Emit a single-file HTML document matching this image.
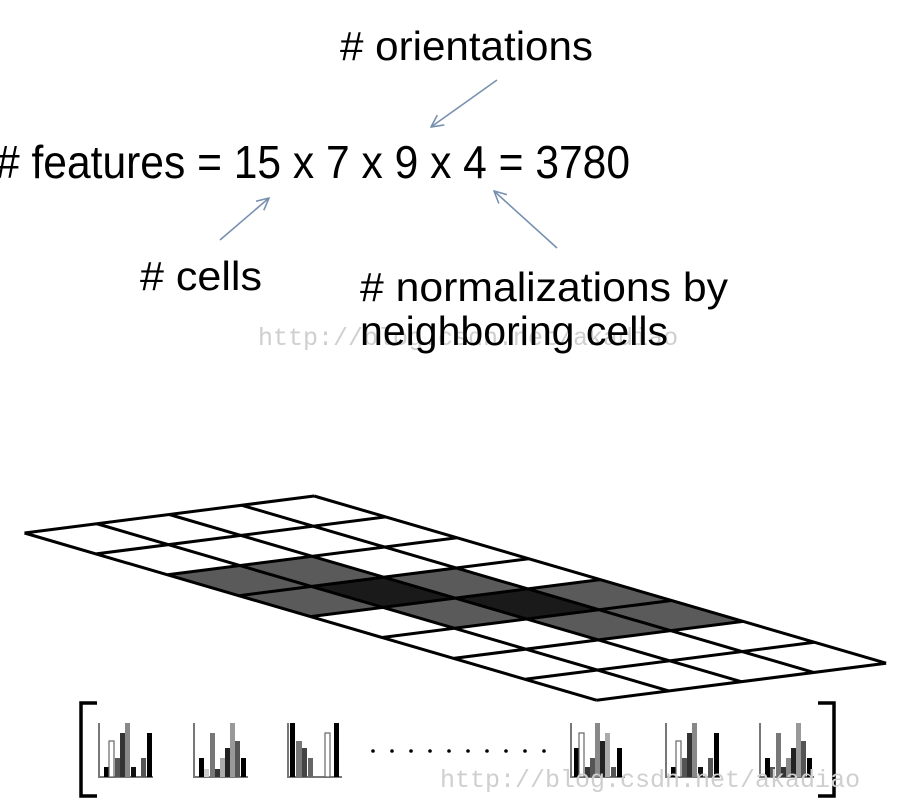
<!DOCTYPE html>
<html><head><meta charset="utf-8"><style>
html,body{margin:0;padding:0;background:#fff;}
svg{display:block;}
text{font-family:"Liberation Sans",Arial,sans-serif;fill:#000;}
.wm{font-family:"Liberation Mono","Liberation Serif",monospace;fill:#cfcfcf;font-size:25px;}
</style></head><body>
<svg width="917" height="806" viewBox="0 0 917 806" xmlns="http://www.w3.org/2000/svg">
<defs>
<marker id="ah" markerWidth="14" markerHeight="14" refX="13" refY="7" orient="auto" markerUnits="userSpaceOnUse">
<path d="M1,1 L13,7 L1,13" fill="none" stroke="#7890b0" stroke-width="1.6"/>
</marker>
</defs>
<text class="wm" x="258" y="345">http://blog.csdn.net/akadiao</text>
<text x="340" y="60" font-size="41" textLength="253" lengthAdjust="spacingAndGlyphs"># orientations</text>
<text x="-4" y="178" font-size="46" textLength="634" lengthAdjust="spacingAndGlyphs"># features = 15 x 7 x 9 x 4 = 3780</text>
<text x="140" y="290" font-size="41" textLength="122" lengthAdjust="spacingAndGlyphs"># cells</text>
<text x="360" y="301" font-size="41" textLength="368" lengthAdjust="spacingAndGlyphs"># normalizations by</text>
<text x="360" y="345" font-size="41" textLength="308" lengthAdjust="spacingAndGlyphs">neighboring cells</text>
<g stroke="#7890b0" stroke-width="1.6" fill="none">
<line x1="497" y1="80" x2="431" y2="127" marker-end="url(#ah)"/>
<line x1="220" y1="240" x2="269" y2="198" marker-end="url(#ah)"/>
<line x1="557" y1="248" x2="494" y2="191" marker-end="url(#ah)"/>
</g>
<g transform="matrix(72.4,-9.25,71.5,20.9,24.5,533)">
<rect x="0" y="0" width="4" height="8" fill="#fff"/>
<rect x="0" y="2" width="1" height="1" fill="#5a5a5a"/>
<rect x="1" y="2" width="1" height="1" fill="#5a5a5a"/>
<rect x="0" y="3" width="1" height="1" fill="#5a5a5a"/>
<rect x="1" y="3" width="1" height="1" fill="#1a1a1a"/>
<rect x="2" y="3" width="1" height="1" fill="#5a5a5a"/>
<rect x="1" y="4" width="1" height="1" fill="#5a5a5a"/>
<rect x="2" y="4" width="1" height="1" fill="#1a1a1a"/>
<rect x="3" y="4" width="1" height="1" fill="#5a5a5a"/>
<rect x="2" y="5" width="1" height="1" fill="#5a5a5a"/>
<rect x="3" y="5" width="1" height="1" fill="#5a5a5a"/>
<path vector-effect="non-scaling-stroke" stroke="#000" stroke-width="3" fill="none" d="M0,0V8M1,0V8M2,0V8M3,0V8M4,0V8M0,0H4M0,1H4M0,2H4M0,3H4M0,4H4M0,5H4M0,6H4M0,7H4M0,8H4"/>
</g>
<path d="M97,703 H81 V796 H97" fill="none" stroke="#000" stroke-width="3.5"/>
<path d="M818,703 H834 V796 H818" fill="none" stroke="#000" stroke-width="3.5"/>
<g fill="#000">
<circle cx="373" cy="751" r="1.8"/><circle cx="392" cy="751" r="1.8"/><circle cx="411" cy="751" r="1.8"/><circle cx="430" cy="751" r="1.8"/><circle cx="449" cy="751" r="1.8"/><circle cx="468" cy="751" r="1.8"/><circle cx="487" cy="751" r="1.8"/><circle cx="506" cy="751" r="1.8"/><circle cx="525" cy="751" r="1.8"/><circle cx="544" cy="751" r="1.8"/>
</g>
<g transform="translate(98,0)">
<path d="M1,723 V777 H55" fill="none" stroke="#777" stroke-width="2"/>
<rect x="6" y="767" width="5" height="10" fill="#000"/>
<rect x="11" y="741" width="5" height="36" fill="#fff" stroke="#666" stroke-width="1.2"/>
<rect x="17" y="758" width="5" height="19" fill="#555"/>
<rect x="22" y="733" width="5" height="44" fill="#333"/>
<rect x="27" y="723" width="5" height="54" fill="#888"/>
<rect x="33" y="767" width="5" height="10" fill="#111"/>
<rect x="43" y="758" width="5" height="19" fill="#555"/>
<rect x="49" y="733" width="5" height="44" fill="#000"/>
</g>
<g transform="translate(193,0)">
<path d="M1,723 V777 H55" fill="none" stroke="#777" stroke-width="2"/>
<rect x="6" y="758" width="5" height="19" fill="#000"/>
<rect x="11" y="769" width="5" height="8" fill="#ccc"/>
<rect x="17" y="733" width="5" height="44" fill="#777"/>
<rect x="22" y="769" width="5" height="8" fill="#333"/>
<rect x="27" y="758" width="5" height="19" fill="#aaa"/>
<rect x="32" y="748" width="5" height="29" fill="#222"/>
<rect x="37" y="723" width="5" height="54" fill="#999"/>
<rect x="42" y="741" width="5" height="36" fill="#555"/>
<rect x="48" y="758" width="5" height="19" fill="#000"/>
</g>
<g transform="translate(287,0)">
<path d="M1,723 V777 H55" fill="none" stroke="#777" stroke-width="2"/>
<rect x="3" y="723" width="5" height="54" fill="#000"/>
<rect x="9" y="741" width="6" height="36" fill="#777"/>
<rect x="15" y="748" width="5" height="29" fill="#444"/>
<rect x="21" y="758" width="5" height="19" fill="#666"/>
<rect x="38" y="733" width="5" height="44" fill="#fff" stroke="#666" stroke-width="1.2"/>
<rect x="47" y="723" width="5" height="54" fill="#000"/>
</g>
<g transform="translate(570,0)">
<path d="M1,723 V777 H55" fill="none" stroke="#777" stroke-width="2"/>
<rect x="4" y="748" width="5" height="29" fill="#000"/>
<rect x="9" y="733" width="5" height="44" fill="#fff" stroke="#666" stroke-width="1.2"/>
<rect x="15" y="767" width="5" height="10" fill="#333"/>
<rect x="20" y="758" width="5" height="19" fill="#555"/>
<rect x="25" y="723" width="5" height="54" fill="#888"/>
<rect x="30" y="741" width="5" height="36" fill="#222"/>
<rect x="35" y="733" width="5" height="44" fill="#aaa"/>
<rect x="41" y="767" width="5" height="10" fill="#555"/>
<rect x="47" y="748" width="5" height="29" fill="#000"/>
</g>
<g transform="translate(665,0)">
<path d="M1,723 V777 H55" fill="none" stroke="#777" stroke-width="2"/>
<rect x="6" y="767" width="5" height="10" fill="#000"/>
<rect x="11" y="741" width="5" height="36" fill="#fff" stroke="#666" stroke-width="1.2"/>
<rect x="17" y="758" width="5" height="19" fill="#555"/>
<rect x="22" y="733" width="5" height="44" fill="#333"/>
<rect x="27" y="723" width="5" height="54" fill="#888"/>
<rect x="33" y="767" width="5" height="10" fill="#111"/>
<rect x="43" y="758" width="5" height="19" fill="#555"/>
<rect x="49" y="733" width="5" height="44" fill="#000"/>
</g>
<g transform="translate(759,0)">
<path d="M1,723 V777 H55" fill="none" stroke="#777" stroke-width="2"/>
<rect x="6" y="758" width="5" height="19" fill="#000"/>
<rect x="11" y="767" width="5" height="10" fill="#555"/>
<rect x="17" y="733" width="5" height="44" fill="#777"/>
<rect x="22" y="767" width="5" height="10" fill="#333"/>
<rect x="27" y="758" width="5" height="19" fill="#888"/>
<rect x="32" y="748" width="5" height="29" fill="#222"/>
<rect x="37" y="723" width="5" height="54" fill="#999"/>
<rect x="42" y="741" width="5" height="36" fill="#555"/>
<rect x="48" y="758" width="5" height="19" fill="#000"/>
</g>
<text class="wm" x="440" y="787">http://blog.csdn.net/akadiao</text>
</svg>
</body></html>
